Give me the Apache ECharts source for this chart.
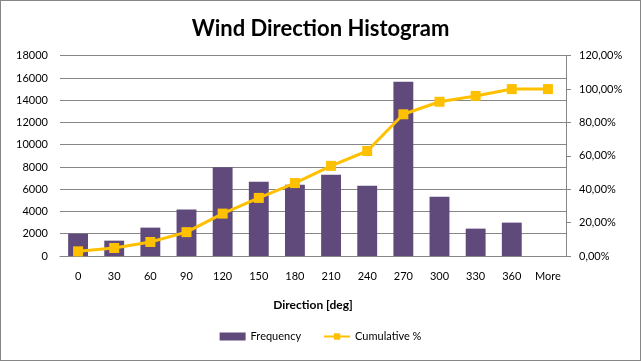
<!DOCTYPE html>
<html>
<head>
<meta charset="utf-8">
<script src="https://cdn.jsdelivr.net/npm/echarts@6/dist/echarts.min.js"></script>
<style>
html,body{margin:0;padding:0;background:#fff;}
#wrap{width:641px;height:361px;box-sizing:border-box;border:1px solid #868686;position:relative;}
#chart{position:absolute;left:-1px;top:-1px;width:641px;height:361px;}
</style>
</head>
<body>
<div id="wrap"><div id="chart"></div></div>
<script>
var categories = ['0','30','60','90','120','150','180','210','240','270','300','330','360','More'];
var frequency = [2000, 1380, 2550, 4170, 7970, 6680, 6410, 7310, 6320, 15670, 5330, 2460, 3000, 0];
var cumulativePct = [2.8, 4.8, 8.4, 14.3, 25.4, 34.8, 43.7, 54.0, 62.9, 84.9, 92.4, 95.9, 100, 100];
var titleText = 'Wind Direction Histogram';
var xAxisName = 'Direction [deg]';

var FONT = 'Lato, "Open Sans", sans-serif';
var chart = echarts.init(document.getElementById('chart'), null, {renderer:'canvas'});
chart.setOption({
  animation:false,
  backgroundColor:'transparent',
  title:{text:titleText,left:'center',top:13,textStyle:{fontFamily:FONT,fontSize:22,fontWeight:'bold',color:'#000'}},
  grid:{left:60,right:75,top:55.7,bottom:105,containLabel:false},
  legend:{bottom:14,left:'center',itemGap:22,itemWidth:26,itemHeight:8,
    textStyle:{fontFamily:FONT,fontSize:11,color:'#000'},
    data:[{name:'Frequency',icon:'rect'},{name:'Cumulative %'}]},
  xAxis:{type:'category',data:categories,boundaryGap:true,
    axisLine:{show:true,lineStyle:{color:'#868686',width:1}},
    axisTick:{show:false},
    axisLabel:{color:'#000',fontFamily:FONT,fontSize:11,margin:15,interval:0},
    name:xAxisName,nameLocation:'middle',nameGap:43,
    nameTextStyle:{fontFamily:FONT,fontSize:12,fontWeight:'bold',color:'#000'}},
  yAxis:[
    {type:'value',min:0,max:18000,interval:2000,position:'left',
     axisLine:{show:false},axisTick:{show:false},
     splitLine:{show:true,lineStyle:{color:'#868686',width:1}},
     axisLabel:{color:'#000',fontFamily:FONT,fontSize:11,margin:12,
       formatter:function(v){return String(v);}}},
    {type:'value',min:0,max:120,interval:20,position:'right',
     axisLine:{show:true,lineStyle:{color:'#868686',width:1}},
     axisTick:{show:true,inside:false,length:5,lineStyle:{color:'#868686'}},
     splitLine:{show:false},
     axisLabel:{color:'#000',fontFamily:FONT,fontSize:11,margin:13,
       formatter:function(v){return v.toFixed(2).replace('.',',')+'%';}}}
  ],
  series:[
    {name:'Frequency',type:'bar',data:frequency,yAxisIndex:0,barWidth:'55%',
     itemStyle:{color:'#604A7B'}},
    {name:'Cumulative %',type:'line',data:cumulativePct,yAxisIndex:1,
     symbol:'rect',symbolSize:10,lineStyle:{color:'#FFC000',width:3},
     itemStyle:{color:'#FFC000'}}
  ]
});
</script>
</body>
</html>
